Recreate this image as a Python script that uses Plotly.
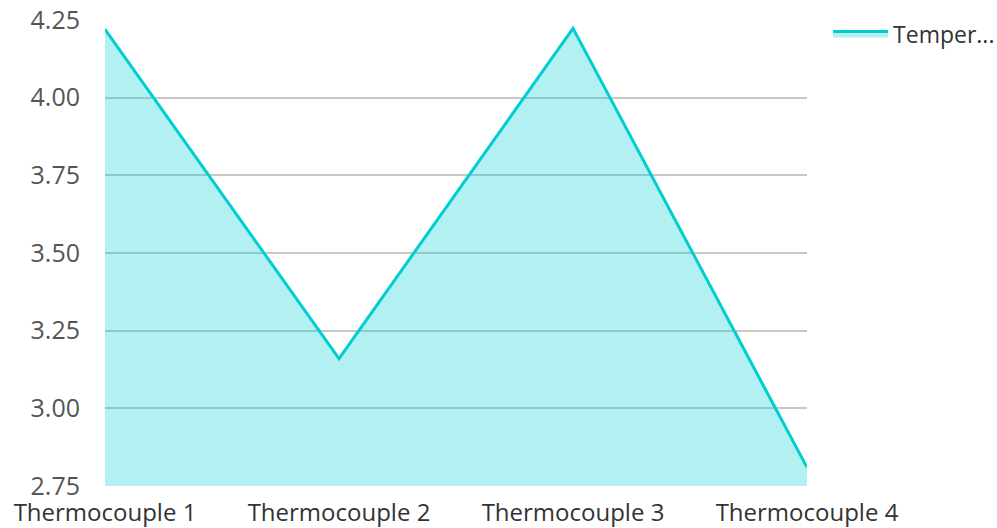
import plotly.graph_objects as go

categories = ["Thermocouple 1", "Thermocouple 2", "Thermocouple 3", "Thermocouple 4"]
values = [4.22, 3.16, 4.223, 2.81]
series_name = "Temper..."
y_ticks = [2.75, 3.00, 3.25, 3.50, 3.75, 4.00, 4.25]
y_tick_labels = ["2.75", "3.00", "3.25", "3.50", "3.75", "4.00", "4.25"]

fig = go.Figure()
fig.add_trace(go.Scatter(
    x=categories, y=values, name=series_name, mode="lines",
    line=dict(color="#00CED1", width=3),
    fill="tozeroy", fillcolor="rgba(0,206,209,0.3)",
))

fig.update_layout(
    width=997, height=528,
    margin=dict(l=105, r=190, t=20, b=42, autoexpand=False),
    paper_bgcolor="white", plot_bgcolor="white",
    font=dict(family="Open Sans", size=25, color="#444"),
    showlegend=True,
    legend=dict(x=1.03, y=1.017, xanchor="left", yanchor="top",
                itemwidth=55,
                font=dict(size=23, color="#333"), bgcolor="rgba(0,0,0,0)"),
    xaxis=dict(type="category", range=[0, 3], showgrid=False, zeroline=False,
               showline=False, ticks="", automargin=False, ticklabelstandoff=10,
               tickfont=dict(size=24, color="#333")),
    yaxis=dict(range=[2.75, 4.25], tickvals=y_ticks, ticktext=y_tick_labels,
               showgrid=True, gridcolor="#c8c8c8", gridwidth=1.5, zeroline=False,
               showline=False, ticks="", ticklabelstandoff=24, automargin=False,
               tickfont=dict(size=25, color="#555")),
)
fig.write_html("out.html", config={"displayModeBar": False},
               post_script="document.body.style.margin='0';")
